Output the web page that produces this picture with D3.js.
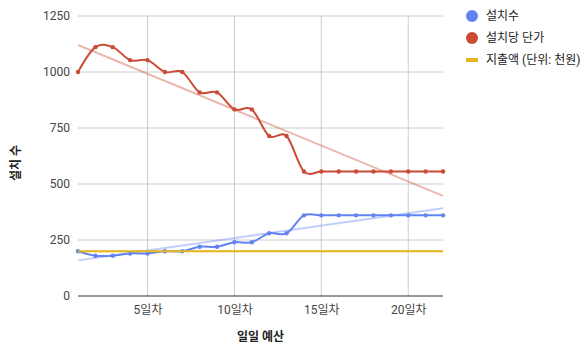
<!DOCTYPE html>
<html>
<head>
<meta charset="utf-8">
<script src="https://cdn.jsdelivr.net/npm/d3@7"></script>
<style>
  body { margin: 0; background: #fff; }
  text { font-family: Roboto, "Noto Sans CJK KR", sans-serif; }
</style>
</head>
<body>
<svg id="chart" width="587" height="352"></svg>
<script>
// Days (x values)
var days = d3.range(1, 23);
// 설치수
var installs = [200, 180, 180, 190, 190, 200, 200, 220, 220, 240, 240, 280, 280, 360,
                360, 360, 360, 360, 360, 360, 360, 360];
// 설치당 단가
var costPer = [1000, 1111, 1111, 1053, 1053, 1000, 1000, 909, 909, 833, 833, 714, 714, 556,
               556, 556, 556, 556, 556, 556, 556, 556];
// 지출액 (단위: 천원)
var spend = [200, 200, 200, 200, 200, 200, 200, 200, 200, 200, 200, 200, 200, 200,
             200, 200, 200, 200, 200, 200, 200, 200];
var xTicks = [5, 10, 15, 20];
var yTicks = [0, 250, 500, 750, 1000, 1250];

var series = [
    {name: "설치수", values: installs, color: "#6384f0", dots: true},
    {name: "설치당 단가", values: costPer, color: "#cc4b36", dots: true},
    {name: "지출액 (단위: 천원)", values: spend, color: "#e5b622", dots: false}
];

var svg = d3.select("#chart");
var margin = {top: 16, right: 144, bottom: 56, left: 78};
var width = 587, height = 352;

var xScale = d3.scaleLinear()
               .domain([1, 22])
               .range([margin.left, width - margin.right]);
var yScale = d3.scaleLinear()
               .domain([0, 1250])
               .range([height - margin.bottom, margin.top]);

// Gridlines
svg.append("g")
   .selectAll("line.h")
   .data(yTicks.filter(function(d) {return d > 0;}))
   .enter().append("line")
   .attr("x1", xScale.range()[0]).attr("x2", xScale.range()[1])
   .attr("y1", function(d) {return yScale(d);}).attr("y2", function(d) {return yScale(d);})
   .attr("stroke", "#cccccc");

svg.append("g")
   .selectAll("line.v")
   .data(xTicks)
   .enter().append("line")
   .attr("x1", function(d) {return xScale(d);}).attr("x2", function(d) {return xScale(d);})
   .attr("y1", yScale.range()[0]).attr("y2", yScale.range()[1])
   .attr("stroke", "#cccccc");

// Axis tick labels
var yAxis = svg.append("g")
   .attr("transform", "translate(" + margin.left + ",0)")
   .call(d3.axisLeft(yScale).tickValues(yTicks).tickSize(0).tickPadding(8)
           .tickFormat(d3.format("d")));
yAxis.select(".domain").remove();
yAxis.selectAll("text").attr("fill", "#444").style("font-size", "12px");

var xAxis = svg.append("g")
   .attr("transform", "translate(0," + yScale(0) + ")")
   .call(d3.axisBottom(xScale).tickValues(xTicks).tickSize(0).tickPadding(9)
           .tickFormat(function(d) {return d + "일차";}));
xAxis.select(".domain").remove();
xAxis.selectAll("text").attr("fill", "#444").style("font-size", "12px");

// Trendlines (least squares over each series)
function trend(values) {
    var mx = d3.mean(days), my = d3.mean(values);
    var sxy = d3.sum(days, function(d, i) {return (d - mx) * (values[i] - my);});
    var sxx = d3.sum(days, function(d) {return (d - mx) * (d - mx);});
    var b = sxy / sxx, a = my - b * mx;
    return [[1, a + b], [22, a + b * 22]];
}

series.forEach(function(s) {
    var t = trend(s.values);
    svg.append("line")
       .attr("x1", xScale(t[0][0])).attr("y1", yScale(t[0][1]))
       .attr("x2", xScale(t[1][0])).attr("y2", yScale(t[1][1]))
       .attr("stroke", s.color)
       .attr("stroke-opacity", 0.4)
       .attr("stroke-width", 2);
});

// Baseline
svg.append("line")
   .attr("x1", xScale.range()[0]).attr("x2", xScale.range()[1])
   .attr("y1", yScale(0)).attr("y2", yScale(0))
   .attr("stroke", "#333");

// Series lines
var line = d3.line()
             .x(function(d, i) {return xScale(days[i]);})
             .y(function(d) {return yScale(d);})
             .curve(d3.curveCardinal.tension(0));

series.forEach(function(s) {
    svg.append("path")
       .datum(s.values)
       .attr("d", line)
       .attr("fill", "none")
       .attr("stroke", s.color)
       .attr("stroke-width", 2);
    if (s.dots) {
        svg.append("g")
           .selectAll("circle")
           .data(s.values)
           .enter().append("circle")
           .attr("cx", function(d, i) {return xScale(days[i]);})
           .attr("cy", function(d) {return yScale(d);})
           .attr("r", 2.2)
           .attr("fill", s.color);
    }
});

// Axis titles
svg.append("text")
   .attr("x", (xScale.range()[0] + xScale.range()[1]) / 2)
   .attr("y", 341)
   .attr("text-anchor", "middle")
   .style("font-size", "12px")
   .style("font-weight", "bold")
   .attr("fill", "#222")
   .text("일일 예산");

svg.append("text")
   .attr("transform", "rotate(-90)")
   .attr("x", -163)
   .attr("y", 20)
   .attr("text-anchor", "middle")
   .style("font-size", "12px")
   .style("font-weight", "bold")
   .attr("fill", "#222")
   .text("설치 수");

// Legend
var legend = svg.append("g").attr("transform", "translate(472,0)");
series.forEach(function(s, i) {
    var y = 16 + i * 22;
    if (s.dots) {
        legend.append("circle").attr("cx", 0).attr("cy", y).attr("r", 6).attr("fill", s.color);
    } else {
        legend.append("rect").attr("x", -6).attr("y", y - 2).attr("width", 12).attr("height", 4).attr("fill", s.color);
    }
    legend.append("text")
          .attr("x", 14)
          .attr("y", y + 4)
          .style("font-size", "12px")
          .attr("fill", "#222")
          .text(s.name);
});
</script>
</body>
</html>
